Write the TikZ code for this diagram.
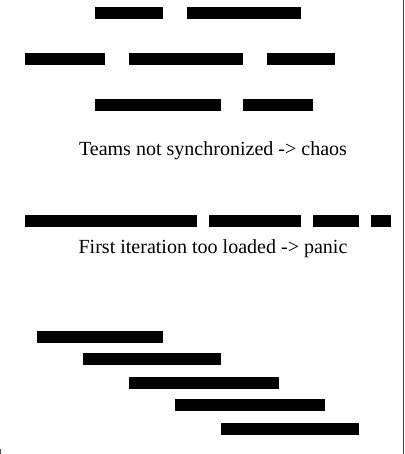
\documentclass[tikz,border=0pt]{standalone}
\usepackage{fontspec}
\setmainfont{Liberation Serif}
\tikzset{bar/.style={fill=black, draw=none}, caption/.style={font=\fontsize{11.4}{13.5}\selectfont, inner sep=0pt}}
\begin{document}
\begin{tikzpicture}[x=0.02cm, y=-0.02cm]
			%%%%% START %%%%%
			\useasboundingbox (0, 0) rectangle (405, 454);
			
			\draw[line width=0.04cm, color=black!75] (403.5, 0) -- (403.5, 454);
			\draw[line width=0.03cm, color=black!70] (0.6, 449) -- (0.6, 454);
			
			\draw[bar] (95, 7) rectangle (163, 19);
			\draw[bar] (187, 7) rectangle (301, 19);
			
			\draw[bar] (25, 53) rectangle (105, 65);
			\draw[bar] (129, 53) rectangle (243, 65);
			\draw[bar] (267, 53) rectangle (335, 65);
			
			\draw[bar] (95, 99) rectangle (221, 111);
			\draw[bar] (243, 99) rectangle (313, 111);
			
			\node[caption] (chaos) at (213, 151) {Teams not synchronized -> chaos};
			
			\draw[bar] (25, 215) rectangle (197, 227);
			\draw[bar] (209, 215) rectangle (301, 227);
			\draw[bar] (313, 215) rectangle (359, 227);
			\draw[bar] (371, 215) rectangle (391, 227);
			
			\node[caption] (panic) at (213, 249) {First iteration too loaded -> panic};
			
			\draw[bar] (37, 331) rectangle (163, 343);
			\draw[bar] (83, 353) rectangle (221, 365);
			\draw[bar] (129, 377) rectangle (279, 389);
			\draw[bar] (175, 399) rectangle (325, 411);
			\draw[bar] (221, 423) rectangle (359, 435);
			
			%%%%% END %%%%%
		\end{tikzpicture}
\end{document}
